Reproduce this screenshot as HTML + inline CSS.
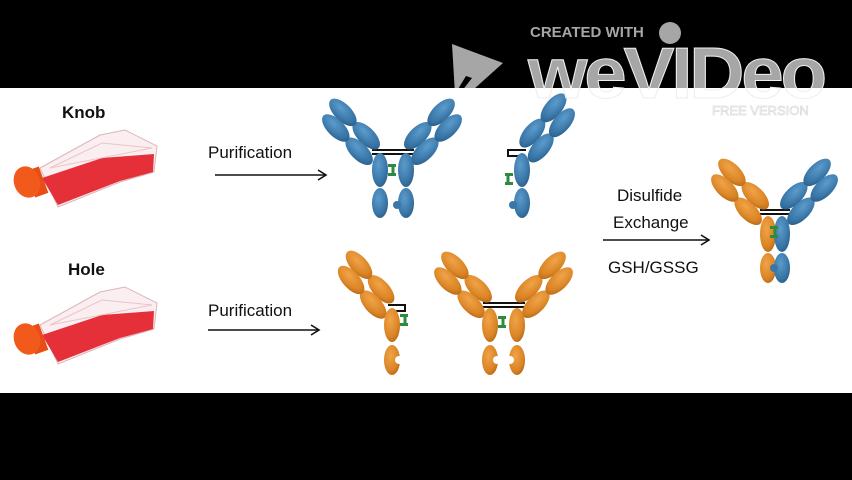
<!DOCTYPE html>
<html><head><meta charset="utf-8"><style>
html,body{margin:0;padding:0;background:#000;width:852px;height:480px;overflow:hidden}
svg{display:block}
text{font-family:"Liberation Sans",sans-serif}
</style></head><body>
<svg width="852" height="480" viewBox="0 0 852 480" xmlns="http://www.w3.org/2000/svg">
<defs>
<radialGradient id="gb" cx="40%" cy="35%" r="70%"><stop offset="0" stop-color="#5b9ccc"/><stop offset="0.7" stop-color="#3a77a8"/><stop offset="1" stop-color="#2a5f8a"/></radialGradient>
<radialGradient id="go" cx="40%" cy="35%" r="70%"><stop offset="0" stop-color="#f0a448"/><stop offset="0.7" stop-color="#db8526"/><stop offset="1" stop-color="#b96a18"/></radialGradient>
<g id="armB">
<ellipse cx="-6" cy="-17" rx="8.5" ry="17.5" fill="url(#gb)"/>
<ellipse cx="-6" cy="-50" rx="8.5" ry="17.5" fill="url(#gb)"/>
<ellipse cx="10" cy="-11" rx="8.5" ry="17.5" fill="url(#gb)"/>
<ellipse cx="10" cy="-44" rx="8.5" ry="17.5" fill="url(#gb)"/>
</g>
<g id="armO">
<ellipse cx="-6" cy="-17" rx="8.5" ry="17.5" fill="url(#go)"/>
<ellipse cx="-6" cy="-50" rx="8.5" ry="17.5" fill="url(#go)"/>
<ellipse cx="10" cy="-11" rx="8.5" ry="17.5" fill="url(#go)"/>
<ellipse cx="10" cy="-44" rx="8.5" ry="17.5" fill="url(#go)"/>
</g>
<g id="glyc" fill="#2e8a3e"><rect x="-1.5" y="-6" width="3" height="12"/><rect x="-5" y="-6" width="8" height="3"/><rect x="-5" y="3" width="8" height="3"/></g>
<clipPath id="top"><rect x="0" y="0" width="852" height="88"/></clipPath>
</defs>
<rect x="0" y="88" width="852" height="305" fill="#fff"/>

<!-- Flasks -->
<g id="flask">
<polygon points="40,168 100,135 125,130 157,146 154,172 120,182 58,207" fill="#fbeef0" stroke="#d9b6bb" stroke-width="1"/>
<polygon points="42,178 102,158 154,154 153,172 120,181 58,205" fill="#e5303a"/>
<polygon points="50,168 102,143 152,148" fill="none" stroke="#e9c5c9"/>
<rect x="30" y="168" width="14" height="28" fill="#e84d16" transform="rotate(-20 37 182)"/>
<ellipse cx="27" cy="182" rx="13" ry="16" fill="#f25a1c" transform="rotate(-20 27 182)"/>
</g>
<use href="#flask" transform="translate(0,157)"/>

<text x="62" y="118" font-size="17" font-weight="bold" fill="#111">Knob</text>
<text x="68" y="275" font-size="17" font-weight="bold" fill="#111">Hole</text>
<text x="208" y="158" font-size="17" fill="#111">Purification</text>
<text x="208" y="316" font-size="17" fill="#111">Purification</text>
<text x="617" y="201" font-size="17" fill="#111">Disulfide</text>
<text x="613" y="228" font-size="17" fill="#111">Exchange</text>
<text x="608" y="273" font-size="17" fill="#111">GSH/GSSG</text>
<g stroke="#111" stroke-width="1.6" fill="none">
<line x1="215" y1="175" x2="325" y2="175"/><polyline points="318,170 326,175 318,180"/>
<line x1="208" y1="330" x2="318" y2="330"/><polyline points="311,325 319,330 311,335"/>
<line x1="603" y1="240" x2="708" y2="240"/><polyline points="701,235 709,240 701,245"/>
</g>

<!-- Blue full -->
<g stroke="#111" stroke-width="2" fill="none"><line x1="372" y1="150" x2="414" y2="150"/><line x1="372" y1="154" x2="414" y2="154"/></g>
<use href="#armB" transform="translate(374,152) rotate(-45) scale(-1,1)"/>
<use href="#armB" transform="translate(410,152) rotate(45)"/>
<ellipse cx="380" cy="170" rx="8" ry="17" fill="url(#gb)"/>
<ellipse cx="406" cy="170" rx="8" ry="17" fill="url(#gb)"/>
<ellipse cx="380" cy="203" rx="8" ry="15" fill="url(#gb)"/>
<ellipse cx="406" cy="203" rx="8" ry="15" fill="url(#gb)"/>
<circle cx="397" cy="205" r="4" fill="#3a77a8"/>
<use href="#glyc" transform="translate(393,170)"/>

<!-- Blue half -->
<path d="M526,150 H508 V156 H520" stroke="#111" stroke-width="2" fill="none"/>
<use href="#armB" transform="translate(526,150) rotate(40)"/>
<ellipse cx="522" cy="170" rx="8" ry="17" fill="url(#gb)"/>
<ellipse cx="522" cy="203" rx="8" ry="15" fill="url(#gb)"/>
<circle cx="513" cy="205" r="4" fill="#3a77a8"/>
<use href="#glyc" transform="translate(508,179) scale(-1,1)"/>

<!-- Orange half -->
<path d="M388,305 H405 V311 H396" stroke="#111" stroke-width="2" fill="none"/>
<use href="#armO" transform="translate(388,306) rotate(-42) scale(-1,1)"/>
<ellipse cx="392" cy="325" rx="8" ry="17" fill="url(#go)"/>
<ellipse cx="392" cy="360" rx="8" ry="15" fill="url(#go)"/>
<circle cx="399" cy="360" r="4" fill="#fff"/>
<use href="#glyc" transform="translate(405,320)"/>

<!-- Orange full -->
<g stroke="#111" stroke-width="2" fill="none"><line x1="483" y1="303" x2="525" y2="303"/><line x1="483" y1="307" x2="525" y2="307"/></g>
<use href="#armO" transform="translate(486,305) rotate(-45) scale(-1,1)"/>
<use href="#armO" transform="translate(521,305) rotate(45)"/>
<ellipse cx="490" cy="325" rx="8" ry="17" fill="url(#go)"/>
<ellipse cx="517" cy="325" rx="8" ry="17" fill="url(#go)"/>
<ellipse cx="490" cy="360" rx="8" ry="15" fill="url(#go)"/>
<ellipse cx="517" cy="360" rx="8" ry="15" fill="url(#go)"/>
<circle cx="497" cy="360" r="4" fill="#fff"/>
<circle cx="510" cy="360" r="4" fill="#fff"/>
<use href="#glyc" transform="translate(503,322)"/>

<!-- Final hybrid -->
<g stroke="#111" stroke-width="2" fill="none"><line x1="760" y1="210" x2="790" y2="210"/><line x1="760" y1="214" x2="790" y2="214"/></g>
<use href="#armO" transform="translate(763,212) rotate(-45) scale(-1,1)"/>
<use href="#armB" transform="translate(786,212) rotate(45)"/>
<ellipse cx="768" cy="234" rx="8" ry="18" fill="url(#go)"/>
<ellipse cx="782" cy="234" rx="8" ry="18" fill="url(#gb)"/>
<ellipse cx="768" cy="268" rx="8" ry="15" fill="url(#go)"/>
<ellipse cx="782" cy="268" rx="8" ry="15" fill="url(#gb)"/>
<circle cx="774" cy="268" r="4" fill="#3a77a8"/>
<use href="#glyc" transform="translate(775,232)"/>

<!-- Watermark -->
<g clip-path="url(#top)" fill="#a6a6a6">
<text x="530" y="37" font-size="15" font-weight="bold">CREATED WITH</text>
<polygon points="452,44 503,63 464,98 458,96 472,78 466,76 455,94"/>
<text x="528" y="98" font-size="72" font-weight="bold" letter-spacing="-3" textLength="296" lengthAdjust="spacingAndGlyphs">weVIDeo</text>
<circle cx="670" cy="33" r="11"/>
</g>
<text x="528" y="98" font-size="72" font-weight="bold" letter-spacing="-3" textLength="296" lengthAdjust="spacingAndGlyphs" fill="none" stroke="#eee" stroke-width="1">weVIDeo</text>
<text x="712" y="115" font-size="13" fill="none" stroke="#ddd" stroke-width="0.8">FREE VERSION</text>
</svg>
</body></html>
